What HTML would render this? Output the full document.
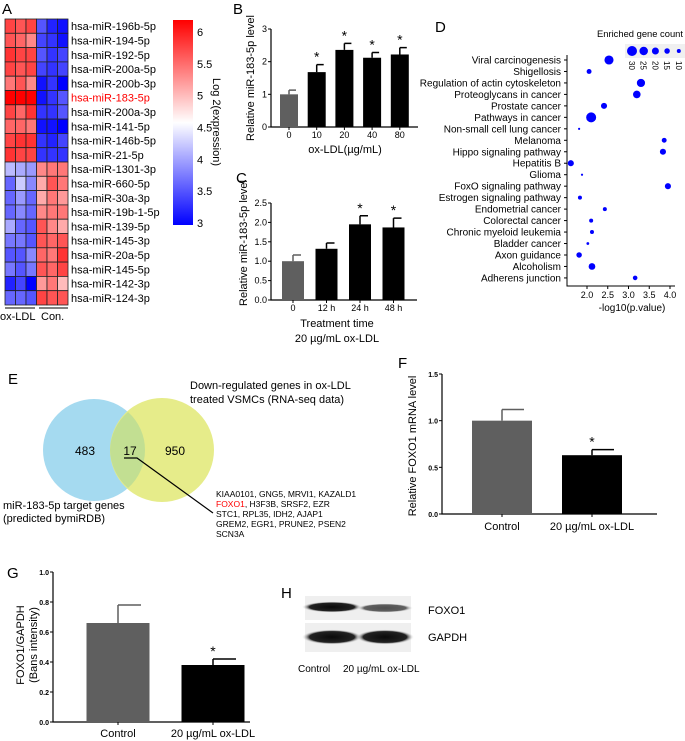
<!DOCTYPE html>
<html><head><meta charset="utf-8"><style>
html,body{margin:0;padding:0;background:#fff}
svg{display:block;font-family:"Liberation Sans",Arial,sans-serif}
</style></head><body>
<svg id="fig" width="685" height="741" viewBox="0 0 685 741" xmlns="http://www.w3.org/2000/svg">
<g id="gA"></g>
<g id="gB"></g>
<g id="gC"></g>
<g id="gD"></g>
<g id="gE">
  <text x="8" y="384" font-size="15">E</text>
  <circle cx="94" cy="450" r="51" fill="#a5daf0"/>
  <circle cx="162" cy="450" r="52" fill="#e6ec8a"/>
  <path d="M128 412 A51 51 0 0 1 145 450 A51 51 0 0 1 128 488 A52 52 0 0 1 110 450 A52 52 0 0 1 128 412Z" fill="#c2df92"/>
  <text x="85" y="455" font-size="12" text-anchor="middle">483</text>
  <text x="130" y="455" font-size="12" text-anchor="middle">17</text>
  <text x="175" y="455" font-size="12" text-anchor="middle">950</text>
  <polyline points="124,458 137,458 213,513" fill="none" stroke="#000" stroke-width="1.2"/>
  <text x="190" y="389" font-size="11"><tspan x="190">Down-regulated genes in ox-LDL</tspan><tspan x="190" dy="14">treated VSMCs (RNA-seq data)</tspan></text>
  <text x="3" y="509" font-size="11"><tspan x="3">miR-183-5p target genes</tspan><tspan x="3" dy="13">(predicted bymiRDB)</tspan></text>
  <text font-size="8.5">
    <tspan x="216" y="497">KIAA0101, GNG5, MRVI1, KAZALD1</tspan>
    <tspan x="216" y="507"><tspan fill="#ff0000">FOXO1</tspan>, H3F3B, SRSF2, EZR</tspan>
    <tspan x="216" y="517">STC1, RPL35, IDH2, AJAP1</tspan>
    <tspan x="216" y="527">GREM2, EGR1, PRUNE2, PSEN2</tspan>
    <tspan x="216" y="537">SCN3A</tspan>
  </text>
</g>
<g id="gF"></g>
<g id="gG"></g>
<g id="gH">
  <text x="281" y="598" font-size="15">H</text>
  <defs>
    <radialGradient id="band" cx="0.5" cy="0.5" r="0.5"><stop offset="0" stop-color="#0a0a0a"/><stop offset="0.75" stop-color="#222"/><stop offset="1" stop-color="#eee" stop-opacity="0"/></radialGradient>
  </defs>
  <rect x="305" y="596" width="106" height="24" fill="#efefef"/>
  <ellipse cx="332" cy="607" rx="30" ry="5.5" fill="url(#band)"/>
  <ellipse cx="385" cy="608" rx="28" ry="4.5" fill="url(#band)" opacity="0.7"/>
  <rect x="305" y="623" width="106" height="29" fill="#efefef"/>
  <ellipse cx="332" cy="637" rx="30" ry="7.5" fill="url(#band)"/>
  <ellipse cx="385" cy="637" rx="29" ry="7.5" fill="url(#band)"/>
  <text x="428" y="614" font-size="11">FOXO1</text>
  <text x="428" y="641" font-size="11">GAPDH</text>
  <text x="298" y="672" font-size="10">Control</text>
  <text x="343" y="672" font-size="10">20 µg/mL ox-LDL</text>
</g>
</svg>
<script>
const NS="http://www.w3.org/2000/svg";
function mk(parent,tag,attrs,txt){const e=document.createElementNS(NS,tag);for(const k in attrs)e.setAttribute(k,attrs[k]);if(txt!==undefined)e.textContent=txt;parent.appendChild(e);return e;}

/* ---------- Panel A data ---------- */
const heatRows=["hsa-miR-196b-5p","hsa-miR-194-5p","hsa-miR-192-5p","hsa-miR-200a-5p","hsa-miR-200b-3p","hsa-miR-183-5p","hsa-miR-200a-3p","hsa-miR-141-5p","hsa-miR-146b-5p","hsa-miR-21-5p","hsa-miR-1301-3p","hsa-miR-660-5p","hsa-miR-30a-3p","hsa-miR-19b-1-5p","hsa-miR-139-5p","hsa-miR-145-3p","hsa-miR-20a-5p","hsa-miR-145-5p","hsa-miR-142-3p","hsa-miR-124-3p"];
const heatVals=[
[5.6,5.5,5.6,3.5,3.2,3.1],[5.5,5.4,5.2,3.4,3.3,3.1],[5.7,5.6,5.6,3.5,3.3,3.4],[5.6,5.5,5.6,3.4,3.3,3.4],
[5.3,5.5,5.2,3.1,3.3,3.0],[6.1,6.0,6.0,3.1,3.3,3.5],[5.6,5.4,5.7,3.3,3.3,3.5],[5.4,5.4,5.3,3.1,3.1,3.0],
[5.6,5.7,5.7,3.3,3.2,3.4],[5.7,5.6,5.6,3.3,3.3,3.3],[4.1,4.0,3.9,5.2,5.3,5.3],[3.6,4.2,3.8,5.0,5.5,5.3],
[3.6,3.9,3.6,5.0,5.3,5.1],[3.6,3.8,3.6,5.2,5.3,5.3],[4.0,3.6,3.5,5.5,5.2,5.0],[3.7,3.7,3.5,5.5,5.4,5.5],
[3.5,3.5,3.8,5.4,5.3,5.7],[3.7,3.5,3.7,5.5,5.4,5.6],[3.2,3.4,3.0,5.1,5.3,4.9],[3.6,3.6,3.5,5.6,5.5,5.5]];
const cbTicks=[3,3.5,4,4.5,5,5.5,6];

/* ---------- Panel B data ---------- */
const bCats=["0","10","20","40","80"];
const bVals=[1.0,1.68,2.36,2.12,2.22];
const bErr=[0.13,0.23,0.2,0.16,0.21];
const bSig=[false,true,true,true,true];
const bTicks=[0,1,2,3];

/* ---------- Panel C data ---------- */
const cCats=["0","12 h","24 h","48 h"];
const cVals=[1.0,1.32,1.95,1.87];
const cErr=[0.16,0.15,0.22,0.24];
const cSig=[false,false,true,true];
const cTicks=[0,0.5,1.0,1.5,2.0,2.5];

/* ---------- Panel D data ---------- */
const dTerms=["Viral carcinogenesis","Shigellosis","Regulation of actin cytoskeleton","Proteoglycans in cancer","Prostate cancer","Pathways in cancer","Non-small cell lung cancer","Melanoma","Hippo signaling pathway","Hepatitis B","Glioma","FoxO signaling pathway","Estrogen signaling pathway","Endometrial cancer","Colorectal cancer","Chronic myeloid leukemia","Bladder cancer","Axon guidance","Alcoholism","Adherens junction"];
const dLogP=[2.53,2.05,3.30,3.20,2.41,2.10,1.81,3.86,3.83,1.61,1.88,3.95,1.83,2.43,2.10,2.12,2.02,1.81,2.12,3.16];
const dCount=[27,13,24,22,17,30,4,13,17,17,4,17,10,10,10,10,6,15,19,12];
const dXTicks=[2.0,2.5,3.0,3.5,4.0];
const dLegendCounts=[30,25,20,15,10];

/* ---------- Panel F data ---------- */
const fCats=["Control","20 µg/mL ox-LDL"];
const fVals=[1.0,0.63];
const fErr=[0.12,0.06];
const fSig=[false,true];
const fTicks=[0.0,0.5,1.0,1.5];

/* ---------- Panel G data ---------- */
const gCats=["Control","20 µg/mL ox-LDL"];
const gVals=[0.66,0.38];
const gErr=[0.12,0.04];
const gSig=[false,true];
const gTicks=[0.0,0.2,0.4,0.6,0.8,1.0];

/* ===== Panel A ===== */
(function(){
 const g=document.getElementById('gA');
 const t=mk(g,'text',{x:2,y:14,'font-size':15},'A');
 
 
 function col(v){let r,gg,b;if(v>=4.5){const f=Math.min(1,(v-4.5)/1.5);r=255;gg=Math.round(255*(1-f));b=gg;}else{const f=Math.min(1,(4.5-v)/1.5);b=255;r=Math.round(255*(1-f));gg=r;}return `rgb(${r},${gg},${b})`;}
 const x0=5,y0=19,cw=10.5,rh=14.3;
 heatRows.forEach((name,i)=>{
  heatVals[i].forEach((v,j)=>{
   const c=mk(g,'rect',{x:x0+j*cw,y:y0+i*rh,width:cw,height:rh,fill:col(v),stroke:'#222','stroke-width':0.8});
   
   
  });
  const l=mk(g,'text',{x:71,y:y0+i*rh+rh/2+4,'font-size':11,fill:name==="hsa-miR-183-5p"?'#ff0000':'#000'},name);
  
  
 });
 const b1=mk(g,'line',{x1:5,y1:308,x2:35,y2:308,stroke:'#000'});
 
 
 const b2=mk(g,'line',{x1:39,y1:308,x2:68,y2:308,stroke:'#000'});
 
 
 const l1=mk(g,'text',{x:0,y:320,'font-size':11},'ox-LDL');
 
 
 const l2=mk(g,'text',{x:41,y:320,'font-size':11},'Con.');
 
 
 const defs=mk(g,'defs',{});
 const lg=mk(defs,'linearGradient',{id:'cbg',x1:0,y1:1,x2:0,y2:0});
 mk(lg,'stop',{offset:0,'stop-color':'#0000ff'});mk(lg,'stop',{offset:0.5,'stop-color':'#ffffff'});mk(lg,'stop',{offset:1,'stop-color':'#ff0000'});
 const cbTop=20,cbBot=225;
 const cb=mk(g,'rect',{x:173,y:cbTop,width:20,height:cbBot-cbTop,fill:'url(#cbg)'});
 
 
 const cy=v=>223-(v-3)*(223-32)/3;
 cbTicks.forEach(v=>{
  const tt=mk(g,'text',{x:197,y:cy(v)+4,'font-size':11},String(v));
  
  
 });
 const ct=mk(g,'text',{x:0,y:0,'font-size':11,'text-anchor':'middle',transform:'translate(213,122) rotate(90)'},'Log 2(expression)');
 
 
})();

/* ===== generic bar chart ===== */
function barChart(gid,o){
 const g=document.getElementById(gid);
 const ys=v=>o.y0-(v-0)*(o.y0-o.yTop)/o.yMax;
 const ax=mk(g,'polyline',{points:`${o.ax},${o.yTop} ${o.ax},${o.y0} ${o.xEnd},${o.y0}`,fill:'none',stroke:'#000','stroke-width':1.2});
 
 
 o.ticks.forEach(v=>{
  const tl=mk(g,'line',{x1:o.ax-3,x2:o.ax,y1:ys(v),y2:ys(v),stroke:'#000'});
  
  
  const tx=mk(g,'text',{x:o.ax-4,y:ys(v)+3,'font-size':o.tfs,'text-anchor':'end','font-weight':o.bold?'bold':'normal'},o.fmt(v));
  
  
 });
 o.cats.forEach((c,i)=>{
  const cx=o.first+i*o.step, v=o.vals[i], e=o.errs[i];
  const r=mk(g,'rect',{x:cx-o.bw/2,y:ys(v),width:o.bw,height:o.y0-ys(v),fill:i===0?'#5f5f5f':'#000'});
  
  
  const el=mk(g,'path',{d:`M${cx} ${ys(v)} V${ys(v+e)} M${cx} ${ys(v+e)} H${cx+o.capw}`,stroke:i===0?'#5f5f5f':'#000','stroke-width':1.5,fill:'none'});
  
  
  if(o.sig[i]){
   const s=mk(g,'text',{x:cx,y:ys(v+e)-3,'font-size':14,'text-anchor':'middle'},'*');
   
   
  }
  const tk=mk(g,'line',{x1:cx,x2:cx,y1:o.y0,y2:o.y0+3,stroke:'#000'});
  
  
  const lb=mk(g,'text',{x:cx,y:o.y0+o.lblDy,'font-size':o.xfs,'text-anchor':'middle'},c);
  
  
 });
}

barChart('gB',{cats:bCats,vals:bVals,errs:bErr,sig:bSig,ticks:bTicks,yMax:3,y0:127,yTop:29,ax:271,xEnd:418,first:289,step:27.7,bw:18,capw:7,tfs:9,xfs:9,lblDy:11,fmt:v=>String(v)});
(function(){const g=document.getElementById('gB');
 const a=mk(g,'text',{x:233,y:14,'font-size':15},'B');
 const t=mk(g,'text',{x:0,y:0,'font-size':11,'text-anchor':'middle',transform:'translate(254,78) rotate(-90)'},'Relative miR-183-5p level');
 const x=mk(g,'text',{x:345,y:153,'font-size':11,'text-anchor':'middle'},'ox-LDL(µg/mL)');
})();

barChart('gC',{cats:cCats,vals:cVals,errs:cErr,sig:cSig,ticks:cTicks,yMax:2.5,y0:300,yTop:203,ax:271,xEnd:417,first:293,step:33.5,bw:22,capw:8,tfs:9,xfs:9,lblDy:11,fmt:v=>v.toFixed(1)});
(function(){const g=document.getElementById('gC');
 const a=mk(g,'text',{x:236,y:183,'font-size':15},'C');
 const t=mk(g,'text',{x:0,y:0,'font-size':11,'text-anchor':'middle',transform:'translate(247,243) rotate(-90)'},'Relative miR-183-5p level');
 const x=mk(g,'text',{x:337,y:327,'font-size':11,'text-anchor':'middle'},'Treatment time');
 const x2=mk(g,'text',{x:337,y:342,'font-size':11,'text-anchor':'middle'},'20 µg/mL ox-LDL');
})();

/* ===== Panel D ===== */
(function(){
 const g=document.getElementById('gD');
 const a=mk(g,'text',{x:435,y:32,'font-size':15},'D');
 const xs=v=>587+(v-2)*41.5, ys=i=>60+i*11.47, rs=c=>0.15*c+0.5;
 const ax=mk(g,'polyline',{points:`567,55 567,286 675,286`,fill:'none',stroke:'#000','stroke-width':1});
 
 dTerms.forEach((t,i)=>{
  const l=mk(g,'text',{x:561,y:ys(i)+3.5,'font-size':10,'text-anchor':'end'},t);
  
  const tk=mk(g,'line',{x1:564,x2:567,y1:ys(i),y2:ys(i),stroke:'#000'});
  
  const c=mk(g,'circle',{cx:xs(dLogP[i]),cy:ys(i),r:rs(dCount[i]),fill:'#0000ff'});
  
 });
 dXTicks.forEach(v=>{
  const tk=mk(g,'line',{x1:xs(v),x2:xs(v),y1:286,y2:289,stroke:'#000'});
  
  const tl=mk(g,'text',{x:xs(v),y:298,'font-size':9,'text-anchor':'middle'},v.toFixed(1));
  
 });
 const xt=mk(g,'text',{x:632,y:311,'font-size':10,'text-anchor':'middle'},'-log10(p.value)');
 
 const lt=mk(g,'text',{x:597,y:37,'font-size':9.5,textLength:86,lengthAdjust:'spacingAndGlyphs'},'Enriched gene count');
 
 const bg=mk(g,'rect',{x:625,y:44,width:60,height:14,fill:'#f0f0f0'});
 
 dLegendCounts.forEach((c,i)=>{
  const x=632+i*11.7;
  const ci=mk(g,'circle',{cx:x,cy:51,r:rs(c),fill:'#0000ff'});
  
  const tx=mk(g,'text',{x:0,y:0,'font-size':8,transform:`translate(${x-3},61) rotate(90)`},String(c));
  
 });
})();

/* ===== Panel F ===== */
barChart('gF',{cats:fCats,vals:fVals,errs:fErr,sig:fSig,ticks:fTicks,yMax:1.5,y0:514,yTop:374,ax:442,xEnd:657,first:502,step:90,bw:60,capw:22,tfs:7,xfs:11,lblDy:16,bold:true,fmt:v=>v.toFixed(1)});
(function(){const g=document.getElementById('gF');
 const a=mk(g,'text',{x:398,y:368,'font-size':15},'F');
 const t=mk(g,'text',{x:0,y:0,'font-size':11,'text-anchor':'middle',transform:'translate(416,446) rotate(-90)'},'Relative FOXO1 mRNA level');
})();

/* ===== Panel G ===== */
barChart('gG',{cats:gCats,vals:gVals,errs:gErr,sig:gSig,ticks:gTicks,yMax:1.0,y0:722,yTop:572,ax:53,xEnd:250,first:118,step:95,bw:63,capw:23,tfs:7,xfs:11,lblDy:15,bold:true,fmt:v=>v.toFixed(1)});
(function(){const g=document.getElementById('gG');
 const a=mk(g,'text',{x:7,y:578,'font-size':15},'G');
 const t=mk(g,'text',{x:0,y:0,'font-size':11,'text-anchor':'middle',transform:'translate(24,645) rotate(-90)'},'FOXO1/GAPDH');
 const t2=mk(g,'text',{x:0,y:0,'font-size':11,'text-anchor':'middle',transform:'translate(37,645) rotate(-90)'},'(Bans intensity)');
})();
</script>
</body></html>
